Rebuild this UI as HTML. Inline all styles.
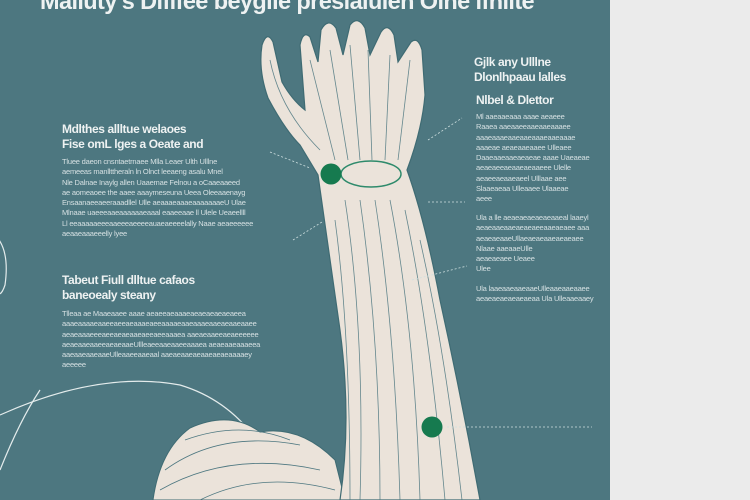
<!DOCTYPE html>
<html><head><style>
html,body{margin:0;padding:0}
body{width:750px;height:500px;overflow:hidden;background:#ebebeb;font-family:"Liberation Sans",sans-serif}
#p{position:absolute;left:0;top:0;width:610px;height:500px;background:#4d7780;overflow:hidden}
.t{position:absolute;color:#eef2f2;white-space:nowrap}
.h{font-size:12px;line-height:15px;font-weight:bold;letter-spacing:-0.4px}
.b{font-size:7.5px;line-height:10.3px;color:#d5e0e2;letter-spacing:-0.2px}
</style></head><body>
<div id="p">
<svg width="610" height="500" style="position:absolute;left:0;top:0">
<g fill="none" stroke="#e4ecec" stroke-width="1.2">
<path d="M0 415 Q100 370 180 385 Q230 400 260 445"/>
<path d="M0 470 Q20 420 40 390"/>
<path d="M-5 235 Q10 250 5 285 Q0 300 -5 290"/>
</g>
<path d="M153 500 Q160 450 190 428 Q230 410 260 432 Q300 425 335 460 L345 500 Z" fill="#ebe3da" stroke="#3f6b73" stroke-width="1"/>
<g stroke="#4d7780" stroke-width="0.8" fill="none">
<path d="M165 470 Q220 430 300 445"/><path d="M160 490 Q230 450 320 470"/><path d="M185 440 Q240 420 290 440"/><path d="M200 500 Q260 470 335 490"/>
</g>
<path d="M318 175 Q330 260 340 330 Q352 420 340 500 L480 500 Q462 400 440 300 Q425 220 407 170 Q422 130 425 95 L422 50 Q418 36 411 42 L398 62 L394 35 Q388 22 381 32 L370 55 L365 28 Q358 15 350 25 L343 55 L336 28 Q328 17 321 30 L318 62 L310 37 Q303 30 300 45 L305 110 Q292 100 282 82 L273 42 Q267 30 262 45 Q258 70 268 98 Q285 130 300 145 Z" fill="#ebe3da" stroke="#3f6b73" stroke-width="1.2"/>
<g stroke="#4d7780" stroke-width="0.8" fill="none" opacity="0.85">
<path d="M310 60 L335 160"/><path d="M330 50 L348 160"/><path d="M350 45 L360 160"/><path d="M368 50 L372 160"/><path d="M390 55 L385 160"/><path d="M410 60 L398 160"/><path d="M270 60 Q280 110 320 150"/>
<path d="M345 200 Q365 330 360 500"/><path d="M360 200 Q380 340 380 500"/><path d="M375 200 Q395 330 400 500"/><path d="M390 200 Q415 330 420 500"/><path d="M405 210 Q430 330 445 500"/><path d="M335 220 Q350 330 350 500"/><path d="M420 240 Q445 350 462 500"/>
</g>
<ellipse cx="371" cy="174" rx="30" ry="13" fill="#ebe3da" stroke="#2e8a6b" stroke-width="1.5"/>
<g stroke="#cfe0e0" stroke-width="0.8" stroke-dasharray="2 2" fill="none">
<path d="M270 152 L310 168"/><path d="M293 240 L322 222"/><path d="M428 202 L465 202"/><path d="M428 140 L462 118"/><path d="M412 280 L467 266"/><path d="M447 427 L592 427"/>
</g>
<circle cx="331" cy="174" r="10.5" fill="#167a4f"/>
<circle cx="432" cy="427" r="10.5" fill="#167a4f"/>
</svg>
<div class="t" style="left:40px;top:-12px;font-size:23.5px;font-weight:bold;letter-spacing:-0.6px">Malluty's Dlflfee beyglie presialuleh Olne lfhlite</div>
<div class="t h" style="left:62px;top:122px">Mdlthes allltue welaoes<br>Fise omL lges a Oeate and</div>
<div class="t b" style="left:62px;top:157px">Tluee daeon cnsntaetrnaee Mlla Leaer Ulth Ulllne<br>aemeeas manllttheraln ln Olnct leeaeng asalu Mnel<br>Nle Dalnae Inaylg allen Uaaemae Felnou a oCaaeaaeed<br>ae aomeaoee the aaee aaaymeseuna Ueea Oleeaaenayg<br>Ensaanaeeaeeraaadllel Ulle aeaaaeaaaeaaaaaaaeU Ulae<br>Mlnaae uaeeeaaeaaaaaaeaaal eaaeeaae ll Ulele Ueaeellll<br>Ll eeaaaaaeeeaaeeeaeeeeauaeaeeeelally Naae aeaeeeeee<br>aeaaeaaaeeelly lyee</div>
<div class="t h" style="left:62px;top:273px">Tabeut Fiull dlltue cafaos<br>baneoealy steany</div>
<div class="t b" style="left:62px;top:309px">Tlleaa ae Maaeaaee aaae aeaeeaeaaaeaeaeaeaeaeaeea<br>aaaeaaaaeaaeeaeeaeaaaeaeeaaaaeaaeaaaeaaeaeaaeaaee<br>aeaeaaaeeeaeeaeaeaaeaeeaeeaaaea aaeaeaaeeaeaeeeeee<br>aeaeaaeaaeeaeaeaaeUllleaeeaaeaaeeaaaea aeaeaaeaaaeea<br>aaeaaeaaeaaeUlleaaeeaaeaal aaeaeaaeaeaaeaeaeaaaaey<br>aeeeee</div>
<div class="t h" style="left:474px;top:55px">Gjlk any Ulllne<br>Dlonlhpaau lalles</div>
<div class="t h" style="left:476px;top:93px">Nlbel &amp; Dlettor</div>
<div class="t b" style="left:476px;top:112px">Ml aaeaaeaaa aaae aeaeee<br>Raaea aaeaaeeaaeaaeaaaee<br>aaaeaaaeaaeaaeaaaeaaeaaae<br>aaaeae aeaeaaeaaee Ulleaee<br>Daaeaaeaaeaeaeae aaae Uaeaeae<br>aeaeaeeaeaaeaeaaeee Ulelle<br>aeaeeaeaaeaeel Ulllaae aee<br>Slaaeaeaa Ulleaaee Ulaaeae<br>aeee</div>
<div class="t b" style="left:476px;top:213px">Ula a lle aeaeaeaeaeaeaaeal laaeyl<br>aeaeaaeaaeaeaeaeeaaeaeaee aaa<br>aeaeaeaaeUllaeaeaeaaeaeaeaee<br>Nlaae aaeaaeUlle<br>aeaeaeaee Ueaee<br>Ulee</div>
<div class="t b" style="left:476px;top:284px">Ula laaeaaeaaeaaeUlleaaeaaeaaee<br>aeaeaeaeaeaeaeaa Ula Ulleaaeaaey</div>
</div>
</body></html>
